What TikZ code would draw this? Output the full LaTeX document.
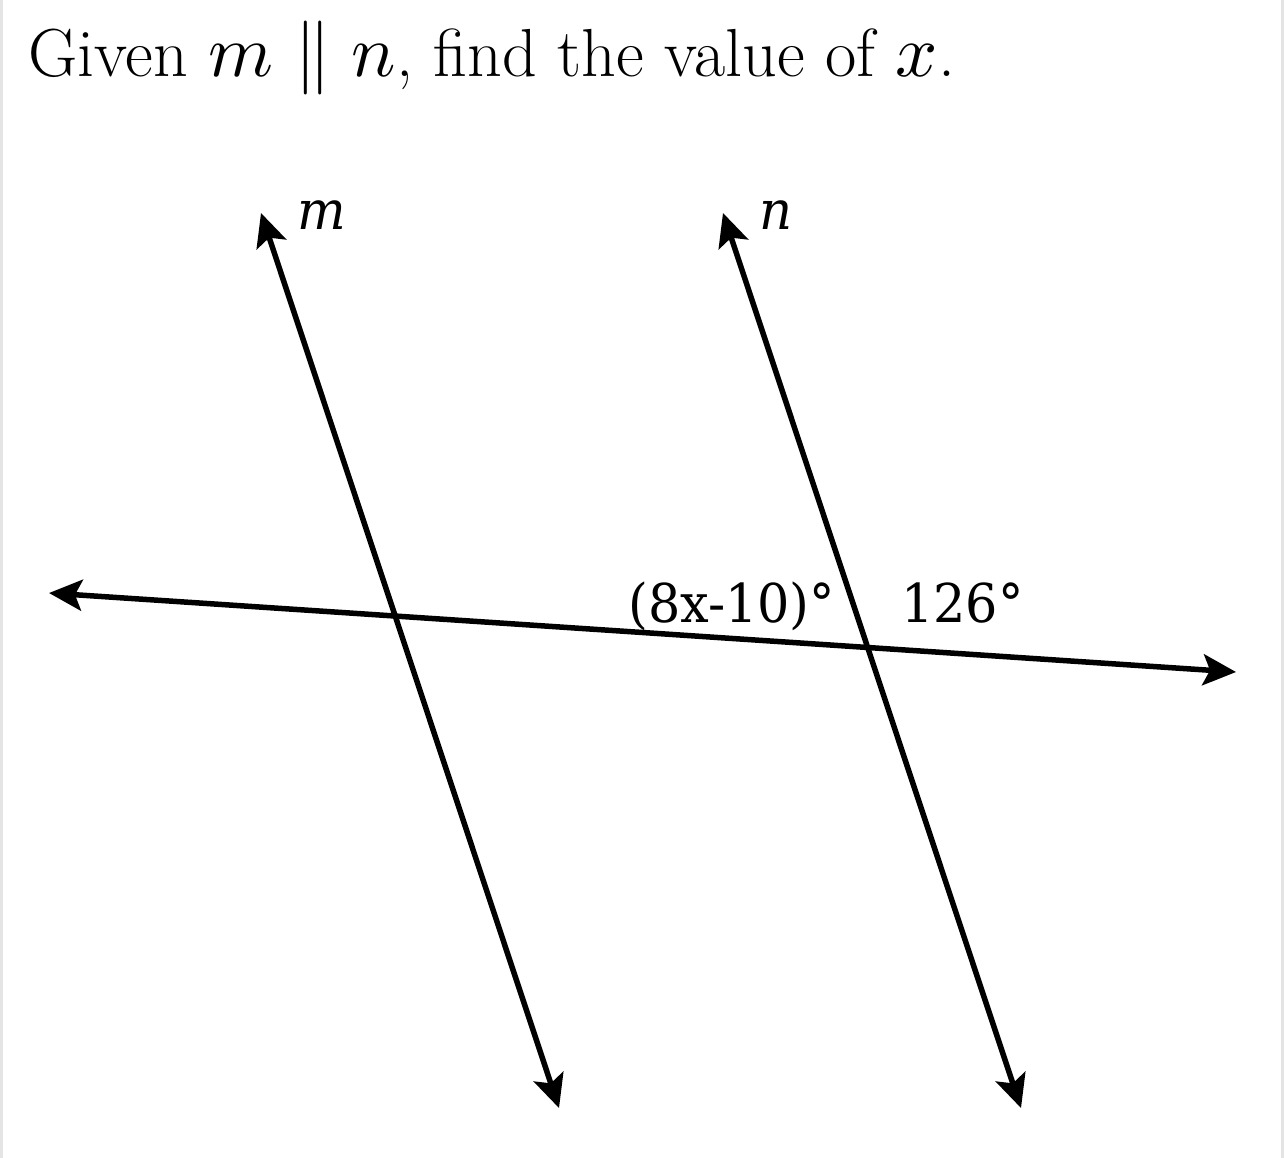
\documentclass[tikz,border=0pt]{standalone}
\usepackage{unicode-math}
\setmathfont{Latin Modern Math}
\usetikzlibrary{arrows.meta}
\newfontfamily\lblfont[FakeStretch=0.95]{DejaVu Serif}
\newcommand{\bigmath}[1]{{\fontsize{74}{78}\selectfont$#1$}}
\definecolor{edgegray}{HTML}{E4E4E4}
\tikzset{
  geoline/.style={line width=5.5pt, {Stealth[length=33pt,width=31pt,inset=7pt]}-{Stealth[length=33pt,width=31pt,inset=7pt]}},
  anglelbl/.style={font=\lblfont\fontsize{53.5}{60}\selectfont, inner sep=0pt, anchor=base west},
  linelbl/.style={font=\lblfont\itshape\fontsize{54}{60}\selectfont, inner sep=0pt, anchor=base west}
}
\begin{document}
\begin{tikzpicture}[x=1pt,y=-1pt]
\useasboundingbox (0,0) rectangle (1284,1158);
\fill[white] (0,0) rectangle (1284,1158);
\fill[edgegray] (0,0) rectangle (3,1158);
\fill[edgegray] (1281,0) rectangle (1284,1158);
% title
\node[inner sep=0pt, anchor=base west, font=\fontsize{68}{72}\selectfont] (title) at (28,77) {Given \bigmath{m \parallel n}, find the value of \bigmath{x}.};
% tips
\coordinate (mtop) at (261,213);
\coordinate (mbot) at (559,1108);
\coordinate (ntop) at (723,213);
\coordinate (nbot) at (1021,1108);
\coordinate (tleft) at (49,593);
\coordinate (tright) at (1236,672);
\draw[geoline] (tleft) -- (tright);
\draw[geoline] (mtop) -- (mbot);
\draw[geoline] (ntop) -- (nbot);
% labels
\node[linelbl] (mlbl) at (297,230) {m};
\node[linelbl] (nlbl) at (759,230) {n};
\node[anglelbl] (a1) at (628,622) {(8x-10)°};
\node[anglelbl] (a2) at (901,622) {126°};
\end{tikzpicture}
\end{document}
